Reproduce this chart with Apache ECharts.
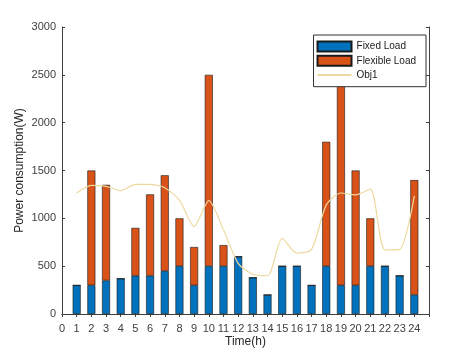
<html>
  <head>
    <script src="https://cdn.jsdelivr.net/npm/echarts@6.0.0/dist/echarts.min.js"></script>
    <title>Power consumption</title>
  </head>
  <body style="margin:0; background-color:#ffffff;">
    <div id="chart" style="width:474px; height:354px;"></div>
    <script>
      const hours = ['0', '1', '2', '3', '4', '5', '6', '7', '8', '9', '10', '11', '12', '13', '14', '15', '16', '17', '18', '19', '20', '21', '22', '23', '24', '25'];
      // values for hours 1..24
      const fixedLoad = [300, 300, 350, 370, 400, 400, 450, 500, 300, 500, 500, 600, 380, 200, 500, 500, 300, 500, 300, 300, 500, 500, 400, 200];
      const flexibleLoad = [0, 1200, 1000, 0, 500, 850, 1000, 500, 400, 2000, 220, 0, 0, 0, 0, 0, 0, 1300, 2400, 1200, 500, 0, 0, 1200];
      const obj1 = [1265, 1345, 1335, 1290, 1355, 1355, 1320, 1190, 915, 1185, 880, 530, 415, 400, 790, 635, 675, 1140, 1265, 1245, 1305, 670, 675, 1235];

      const axisColor = '#404040';
      const chart = echarts.init(document.getElementById('chart'));

      // pad hour 0 and hour 25 (axis ends) with empty values
      const pad = arr => [null, ...arr, null];

      const option = {
        backgroundColor: '#ffffff',
        animation: false,
        grid: { left: 62, right: 45, top: 27, bottom: 40, outerBoundsMode: 'none', containLabel: false },
        legend: {
          right: 48,
          top: 35,
          orient: 'vertical',
          itemGap: -3,
          itemWidth: 34,
          itemHeight: 10,
          padding: [3, 10, 3, 3],
          borderColor: '#303030',
          borderWidth: 1,
          borderRadius: 0,
          backgroundColor: '#ffffff',
          textStyle: { fontSize: 10, lineHeight: 10, padding: 0, color: '#202020', fontFamily: 'Liberation Sans' },
          data: [
            { name: 'Fixed Load', icon: 'rect' },
            { name: 'Flexible Load', icon: 'rect' },
            { name: 'Obj1', itemStyle: { opacity: 0 } }
          ]
        },
        xAxis: [
          {
            type: 'category',
            data: hours,
            boundaryGap: false,
            name: 'Time(h)',
            nameLocation: 'middle',
            nameGap: 17,
            nameMoveOverlap: false,
            nameTextStyle: { fontSize: 12, color: '#262626', fontFamily: 'Liberation Sans', verticalAlign: 'top' },
            splitLine: { show: false },
            axisLine: { lineStyle: { color: axisColor } },
            axisTick: { inside: true, length: 3, interval: 0, lineStyle: { color: axisColor } },
            axisLabel: {
              fontSize: 11,
              color: '#404040',
              margin: 5,
              interval: 0,
              fontFamily: 'Liberation Sans',
              formatter: v => (v === '25' ? '' : v)
            }
          },
          {
            type: 'category',
            data: hours,
            boundaryGap: false,
            position: 'top',
            splitLine: { show: false },
            axisLine: { show: true, lineStyle: { color: axisColor } },
            axisTick: { inside: true, length: 3, interval: 0, lineStyle: { color: axisColor } },
            axisLabel: { show: false }
          }
        ],
        yAxis: [
          {
            type: 'value',
            min: 0,
            max: 3000,
            interval: 500,
            name: 'Power consumption(W)',
            nameLocation: 'middle',
            nameGap: 32,
            nameMoveOverlap: false,
            nameTextStyle: { fontSize: 12, color: '#262626', fontFamily: 'Liberation Sans' },
            splitLine: { show: false },
            axisLine: { show: true, lineStyle: { color: axisColor } },
            axisTick: { show: true, inside: true, length: 3, lineStyle: { color: axisColor } },
            axisLabel: { fontSize: 11, color: '#404040', margin: 6, fontFamily: 'Liberation Sans', formatter: v => String(v) }
          },
          {
            type: 'value',
            position: 'right',
            min: 0,
            max: 3000,
            interval: 500,
            splitLine: { show: false },
            axisLine: { show: true, lineStyle: { color: axisColor } },
            axisTick: { show: true, inside: true, length: 3, lineStyle: { color: axisColor } },
            axisLabel: { show: false }
          }
        ],
        series: [
          {
            name: 'Fixed Load',
            type: 'bar',
            stack: 'load',
            barWidth: 8,
            itemStyle: { color: '#0072BD', borderColor: '#1a1a1a', borderWidth: 0.6 },
            data: pad(fixedLoad)
          },
          {
            name: 'Flexible Load',
            type: 'bar',
            stack: 'load',
            barWidth: 8,
            itemStyle: { color: '#D95319', borderColor: '#1a1a1a', borderWidth: 0.6 },
            data: pad(flexibleLoad)
          },
          {
            name: 'Obj1',
            type: 'line',
            smooth: 0.25,
            symbol: 'none',
            z: 3,
            itemStyle: { color: '#EDD9A0' },
            lineStyle: { color: '#EDD9A0', width: 1.2 },
            data: pad(obj1)
          }
        ]
      };

      chart.setOption(option);
    </script>
  </body>
</html>
